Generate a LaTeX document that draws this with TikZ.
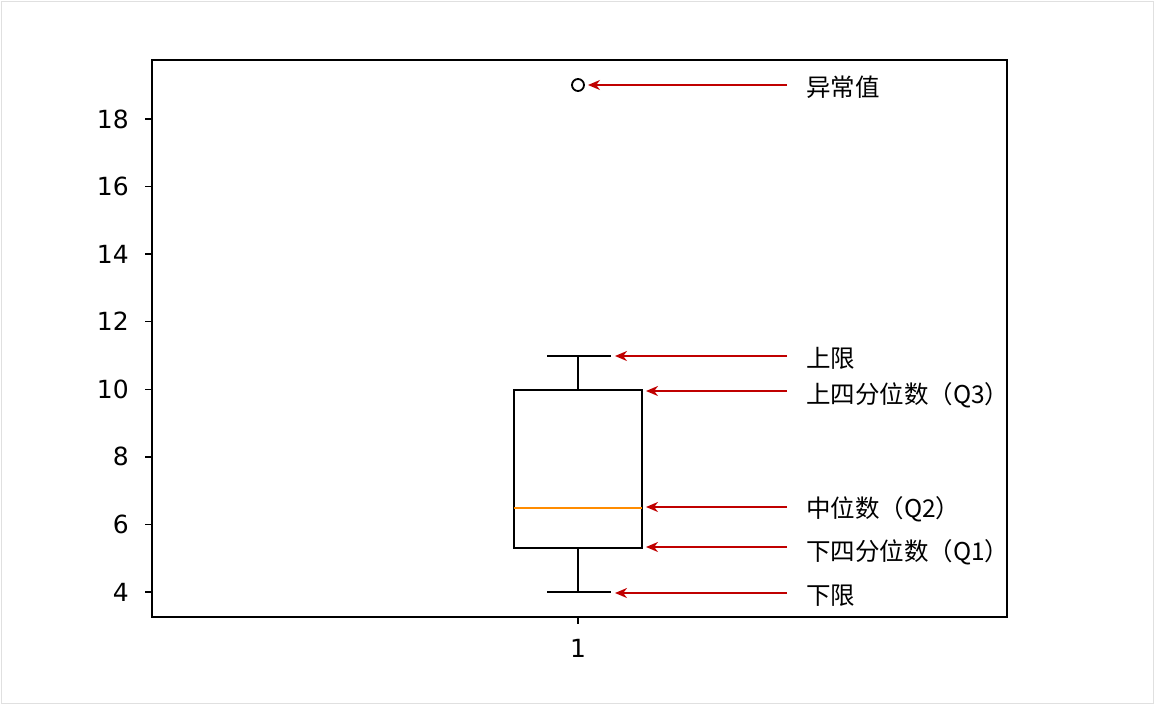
\documentclass[tikz,border=0pt]{standalone}
\usepackage{fontspec}
\setmainfont{DejaVu Sans}
\newfontfamily\cjk{Noto Sans CJK SC}
\usetikzlibrary{arrows.meta}
\begin{document}
\begin{tikzpicture}[x=1pt,y=-1pt,
  ax/.style={draw=black,line width=1.5pt},
  red arrow/.style={draw={rgb,255:red,192;green,0;blue,0},line width=2pt,-{Stealth[length=12pt,width=10pt]}},
  lab/.style={anchor=west,font=\cjk\fontsize{24.5}{26}\selectfont,inner sep=0pt},
  tick label/.style={anchor=east,font=\fontsize{25}{27}\selectfont,inner sep=0pt}]
\useasboundingbox (0,0) rectangle (1154,704);
\fill[white] (0,0) rectangle (1154,704);
\draw[black!12] (1,1) rectangle (1153,703);
\draw[ax] (152,60) rectangle (1007,617);
\foreach \v in {4,6,...,18}{
  \pgfmathsetmacro\yy{592-(\v-4)*33.786}
  \draw[ax] (152,\yy) -- (145,\yy);
  \node[tick label] (t\v) at (129,\yy) {\v};
}
\draw[ax] (578,617) -- (578,624);
\node[font=\fontsize{25}{27}\selectfont] (x1) at (578,648) {1};
% box
\draw[ax] (514,390) rectangle (642,548);
\draw[line width=1.8pt,draw={rgb,255:red,255;green,140;blue,0}] (514,508) -- (642,508);
\draw[ax] (578,390) -- (578,356);
\draw[ax] (547,356) -- (611,356);
\draw[ax] (578,548) -- (578,592);
\draw[ax] (547,592) -- (611,592);
\draw[line width=1.8pt] (578,85) circle (6);
% labels
\node[lab] (l1) at (806,87) {异常值};
\node[lab] (l2) at (806,358) {上限};
\node[lab] (l3) at (806,395) {上四分位数（Q3）};
\node[lab] (l4) at (806,509) {中位数（Q2）};
\node[lab] (l5) at (806,552) {下四分位数（Q1）};
\node[lab] (l6) at (806,596) {下限};
\coordinate (a1) at (588,85);
\coordinate (a2) at (615,356);
\coordinate (a3) at (646,391);
\coordinate (a4) at (646,507);
\coordinate (a5) at (646,547);
\coordinate (a6) at (615,593);
\draw[red arrow] (787,85) -- (a1);
\draw[red arrow] (787,356) -- (a2);
\draw[red arrow] (787,391) -- (a3);
\draw[red arrow] (787,507) -- (a4);
\draw[red arrow] (787,547) -- (a5);
\draw[red arrow] (787,593) -- (a6);
\end{tikzpicture}
\end{document}
